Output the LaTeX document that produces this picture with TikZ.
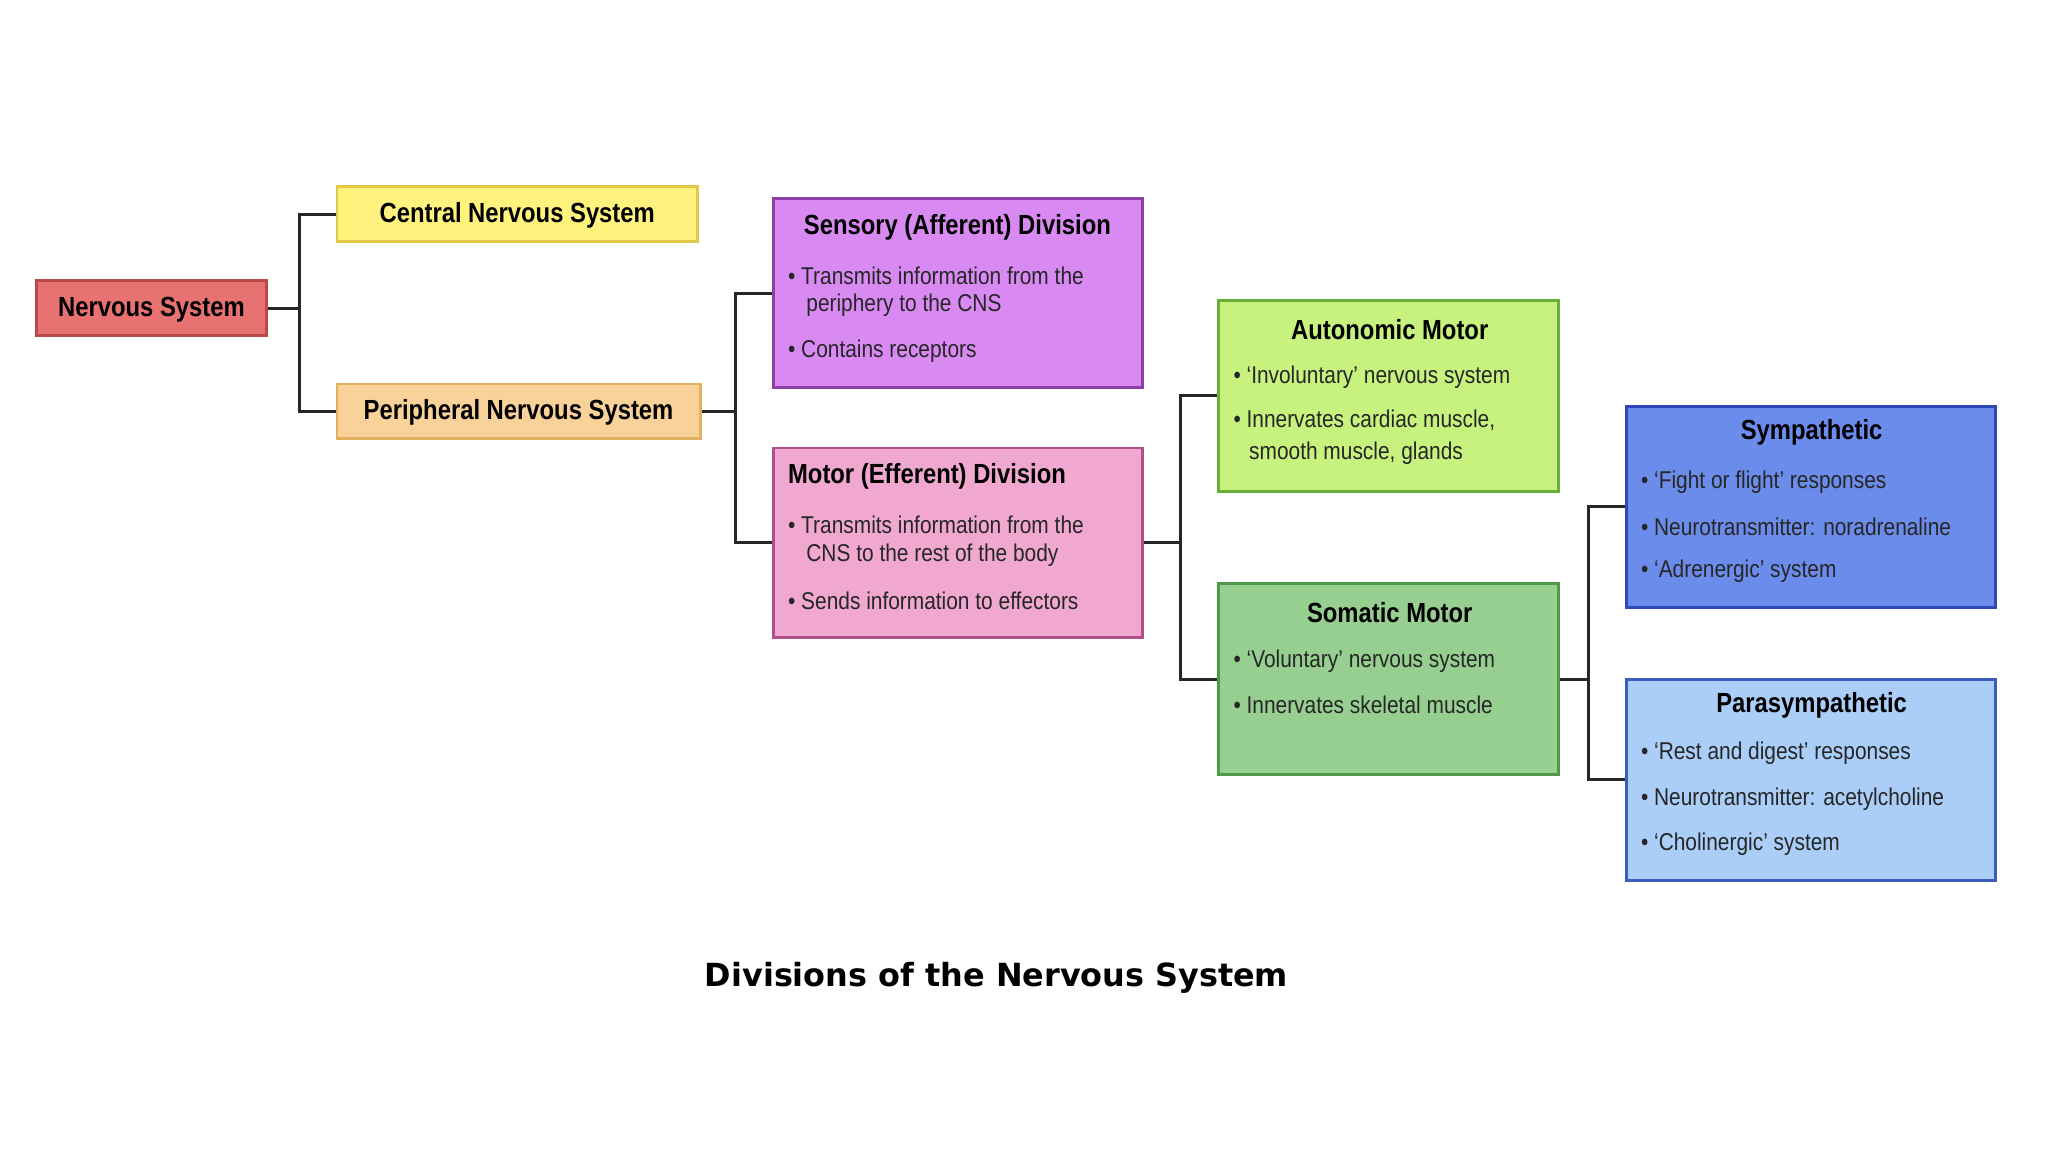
\documentclass[tikz,border=0pt]{standalone}
\usepackage{fontspec}
\setmainfont[FakeStretch=0.86]{Liberation Sans}
\newfontfamily\titlefont{DejaVu Sans}
\begin{document}
\begin{tikzpicture}[x=0.5pt,y=-0.5pt,
  box/.style={draw, line width=1.1pt, inner sep=0pt, rectangle},
  head/.style={font=\fontsize{10.6}{12}\selectfont\bfseries, inner sep=0pt},
  bul/.style={font=\fontsize{9.3}{10}\selectfont, anchor=west, inner sep=0pt, text=black!85},
  con/.style={line width=1.1pt, black!85}]
\useasboundingbox (0,0) rectangle (1568,882);
\definecolor{cns}{HTML}{E87272}\definecolor{cnsd}{HTML}{B94A4A}
\definecolor{cy}{HTML}{FFF37E}\definecolor{cyd}{HTML}{E3C94A}
\definecolor{pn}{HTML}{F9D29A}\definecolor{pnd}{HTML}{E3B060}
\definecolor{se}{HTML}{D88AF2}\definecolor{sed}{HTML}{8E3FA8}
\definecolor{mo}{HTML}{F0A8D0}\definecolor{mod}{HTML}{B0508A}
\definecolor{au}{HTML}{C8F27E}\definecolor{aud}{HTML}{6CAE3C}
\definecolor{so}{HTML}{97CF90}\definecolor{sod}{HTML}{4E9A4A}
\definecolor{sy}{HTML}{6C8CEC}\definecolor{syd}{HTML}{2E48B8}
\definecolor{pa}{HTML}{AACEF8}\definecolor{pad}{HTML}{3A5EC0}
% boxes
\node[box, fill=cns, draw=cnsd, minimum width=176*0.5pt, minimum height=42*0.5pt] (ns) at (116,236) {};
\node[box, fill=cy, draw=cyd, minimum width=276*0.5pt, minimum height=42*0.5pt] (cnsb) at (396,164) {};
\node[box, fill=pn, draw=pnd, minimum width=278*0.5pt, minimum height=42*0.5pt] (pns) at (397,315) {};
\node[box, fill=se, draw=sed, minimum width=283*0.5pt, minimum height=145*0.5pt] (sen) at (733.5,224.5) {};
\node[box, fill=mo, draw=mod, minimum width=283*0.5pt, minimum height=145*0.5pt] (mot) at (733.5,415.5) {};
\node[box, fill=au, draw=aud, minimum width=260*0.5pt, minimum height=146*0.5pt] (aut) at (1063,303) {};
\node[box, fill=so, draw=sod, minimum width=260*0.5pt, minimum height=146*0.5pt] (som) at (1063,520) {};
\node[box, fill=sy, draw=syd, minimum width=283*0.5pt, minimum height=154*0.5pt] (sym) at (1386.5,388) {};
\node[box, fill=pa, draw=pad, minimum width=283*0.5pt, minimum height=154*0.5pt] (par) at (1386.5,597) {};
% connectors
\coordinate (j1) at (229,236); \coordinate (j2) at (563,315);
\coordinate (j3) at (904,415.5); \coordinate (j4) at (1216,520);
\draw[con] (ns.east) -- (j1);
\draw[con] (cnsb.west) -| (j1) |- (pns.west);
\draw[con] (pns.east) -- (j2);
\draw[con] (j2) |- (sen.west);
\draw[con] (j2) |- (mot.west);
\draw[con] (mot.east) -- (j3);
\draw[con] (j3) |- (aut.west);
\draw[con] (j3) |- (som.west);
\draw[con] (som.east) -- (j4);
\draw[con] (j4) |- (sym.west);
\draw[con] (j4) |- (par.west);
% texts
\node[head] (t1) at (116,237) {Nervous System};
\node[head] (t2) at (396,165) {Central Nervous System};
\node[head] (t3) at (397,316) {Peripheral Nervous System};
\node[head] (t4) at (733,174) {Sensory (Afferent) Division};
\node[bul] (b41) at (603,211) {• Transmits information from the};
\node[bul] (b42) at (617,234) {periphery to the CNS};
\node[bul] (b43) at (603,269) {• Contains receptors};
\node[head, anchor=west] (t5) at (603,365) {Motor (Efferent) Division};
\node[bul] (b51) at (603,402) {• Transmits information from the};
\node[bul] (b52) at (617,425) {CNS to the rest of the body};
\node[bul] (b53) at (603,460) {• Sends information to effectors};
\node[head] (t6) at (1064,252) {Autonomic Motor};
\node[bul] (b61) at (944,289) {• ‘Involuntary’ nervous system};
\node[bul] (b62) at (944,322) {• Innervates cardiac muscle,};
\node[bul] (b63) at (956,347) {smooth muscle, glands};
\node[head] (t7) at (1064,469) {Somatic Motor};
\node[bul] (b71) at (944,506) {• ‘Voluntary’ nervous system};
\node[bul] (b72) at (944,540) {• Innervates skeletal muscle};
\node[head] (t8) at (1387,331) {Sympathetic};
\node[bul] (b81) at (1256,369) {• ‘Fight or flight’ responses};
\node[bul] (b82) at (1256,403) {• Neurotransmitter: noradrenaline};
\node[bul] (b83) at (1256,437) {• ‘Adrenergic’ system};
\node[head] (t9) at (1387,540) {Parasympathetic};
\node[bul] (b91) at (1256,577) {• ‘Rest and digest’ responses};
\node[bul] (b92) at (1256,612) {• Neurotransmitter: acetylcholine};
\node[bul] (b93) at (1256,646) {• ‘Cholinergic’ system};
\node[font=\titlefont\fontsize{12.2}{15}\selectfont\bfseries, inner sep=0pt] (title) at (763,749) {Divisions of the Nervous System};
\end{tikzpicture}
\end{document}
